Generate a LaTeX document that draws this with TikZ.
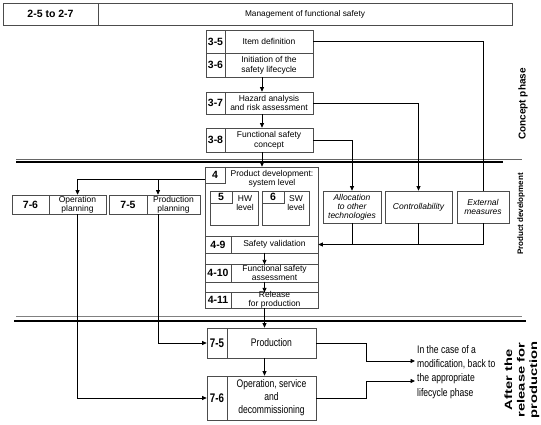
\documentclass[tikz,border=0pt]{standalone}
\usepackage{fontspec}
\setmainfont{Liberation Sans}
\newfontfamily\narrowf[FakeStretch=0.78]{Liberation Sans}
\newfontfamily\widef[FakeStretch=1.4]{Liberation Sans}
\usetikzlibrary{arrows.meta,calc}
\newcommand{\bx}[7][]{\node[cell,#1,minimum width={(#5-#3)*1pt},minimum height={(#6-#4)*1pt}] (#2) at ({(#3+#5)/2},{(#4+#6)/2}) {#7};}
\begin{document}
\begin{tikzpicture}[x=1pt,y=-1pt,
  cell/.style={draw=black!70,line width=0.7pt,inner sep=0pt,align=center,font=\fontsize{8.5}{9.6}\selectfont},
  num/.style={font=\fontsize{10.5}{11}\selectfont\bfseries},
  ital/.style={font=\fontsize{8.5}{9}\selectfont\itshape},
  mid/.style={font=\narrowf\fontsize{11}{13}\selectfont},
  bignum/.style={font=\narrowf\fontsize{12.5}{13}\selectfont\bfseries},
  lbl/.style={inner sep=0pt,align=center,font=\fontsize{8.5}{9.4}\selectfont},
  conn/.style={line width=0.8pt,draw=black},
  arr/.style={conn,-{Triangle[length=4.5pt,width=4pt]}},
  side/.style={rotate=90,inner sep=0pt,align=center}]
\useasboundingbox (0,0) rectangle (541,424);
\fill[white] (0,0) rectangle (541,424);

% phase separators
\draw[black!60,line width=0.6pt] (16,159) -- (522,159);
\draw[black,line width=1.2pt] (16,162) -- (503,162);
\draw[black!50,line width=0.6pt] (16,316) -- (522,316);
\draw[black,line width=2pt] (14,321) -- (526,321);

% header
\bx[num]{hl}{3}{3}{98}{25}{2-5 to 2-7}
\bx[font=\fontsize{8.3}{9}\selectfont]{hr}{98}{3}{512}{25}{Management of functional safety}

% concept phase
\bx[num]{n35}{206}{30}{225}{53}{3-5}
\bx{t35}{225}{30}{313}{53}{Item definition}
\bx[num]{n36}{206}{53}{225}{77}{3-6}
\bx{t36}{225}{53}{313}{77}{Initiation of the\\safety lifecycle}
\bx[num]{n37}{206}{92}{225}{114}{3-7}
\bx{t37}{225}{92}{313}{114}{Hazard analysis\\and risk assessment}
\bx[num]{n38}{206}{128}{225}{152}{3-8}
\bx{t38}{225}{128}{313}{152}{Functional safety\\concept}

% product development box
\bx{b4}{205}{167}{318}{308}{}
\bx[num]{n4}{205}{167}{225}{183}{4}
\node[lbl] (t4) at (272,179) {Product development:\\system level};
\bx{hw}{210}{191}{258}{225}{}
\bx[num]{n5}{210}{191}{232}{203}{5}
\node[lbl] (thw) at (245,203) {HW\\level};
\bx{sw}{262}{191}{309}{225}{}
\bx[num]{n6}{262}{191}{284}{203}{6}
\node[lbl] (tsw) at (296,203) {SW\\level};
\bx{r49}{205}{236}{318}{253}{}
\bx[num]{n49}{205}{236}{231}{253}{4-9}
\node[lbl] (t49) at (274.5,244.5) {Safety validation};
\bx{g1}{205}{253}{318}{264}{}
\bx{r410}{205}{264}{318}{282}{}
\bx[num]{n410}{205}{264}{231}{282}{4-10}
\node[lbl] (t410) at (274.5,273) {Functional safety\\assessment};
\bx{g2}{205}{282}{318}{292}{}
\bx{r411}{205}{292}{318}{308}{}
\bx[num]{n411}{205}{292}{231}{308}{4-11}
\node[lbl] (t411) at (274.5,300) {Release\\for production};

% other measures
\bx[ital]{alloc}{323}{191}{381}{223}{Allocation\\to other\\technologies}
\bx[ital]{ctrl}{385}{191}{452}{223}{Controllability}
\bx[ital]{ext}{457}{191}{509}{223}{External\\measures}

% planning
\bx[num]{n76p}{12}{195}{49}{214}{7-6}
\bx[lbl,draw=black!70,line width=0.7pt]{t76p}{49}{195}{106}{214}{Operation\\planning}
\bx[num]{n75p}{109}{195}{147}{214}{7-5}
\bx[lbl,draw=black!70,line width=0.7pt]{t75p}{147}{195}{200}{214}{Production\\planning}

% after release
\bx[bignum]{n75}{207}{328}{227}{358}{7-5}
\bx[mid]{t75}{227}{328}{316}{358}{Production}
\bx[bignum]{n76}{207}{376}{227}{420}{7-6}
\bx[mid]{t76}{227}{376}{316}{420}{Operation, service\\and\\decommissioning}

\node[inner sep=0pt,anchor=north west,align=left,font=\narrowf\fontsize{11}{14.3}\selectfont] (mod) at (417,345) {In the case of a\\modification, back to\\the appropriate\\lifecycle phase};
\coordinate (m1) at (415,361);
\coordinate (m2) at (415,381);

% side labels
\node[side,font=\fontsize{10}{11}\selectfont\bfseries] (sc) at (523,104) {Concept phase};
\node[side,font=\fontsize{8}{9}\selectfont\bfseries] (sp) at (521,214) {Product development};
\node[side,font=\widef\fontsize{10.5}{12.5}\selectfont\bfseries] (sa) at (522,380) {After the\\release for\\production};

% helper coordinates
\coordinate (cM) at (262,0);
\coordinate (cN) at (264.5,0);
\coordinate (cL2) at (158,0);
\coordinate (cR) at (366,0);
\coordinate (jL) at (b4.west |- t4);

% connectors
\draw[arr] (t36.south -| cM) -- (t37.north -| cM);
\draw[arr] (t37.south -| cM) -- (t38.north -| cM);
\draw[arr] (t38.south -| cM) -- (b4.north -| cM);
\draw[conn] (t35.east) -| (ext.north);
\draw[arr] (t37.east) -| (ctrl.north);
\draw[arr] (t38.east) -| (alloc.north);
\draw[arr] (ext.south) |- (r49.east);
\draw[conn] (alloc.south) -- (alloc.south |- r49.east);
\draw[conn] (ctrl.south) -- (ctrl.south |- r49.east);
\draw[arr] (g1.north -| cN) -- (g1.south -| cN);
\draw[arr] (g2.north -| cN) -- (g2.south -| cN);
\draw[arr] (r411.south -| cN) -- (t75.north -| cN);
\draw[arr] (t75.south -| cN) -- (t76.north -| cN);
\draw[arr] (jL) -| (t76p.north);
\draw[arr] (jL -| cL2) -- (t75p.north -| cL2);
\draw[arr] (t75p.south -| cL2) |- (n75.west);
\draw[arr] (t76p.south) |- (n76.west);
\draw[arr] (t75.east) -- (t75.east -| cR) |- (m1);
\draw[arr] (t76.east) -- (t76.east -| cR) |- (m2);
\end{tikzpicture}
\end{document}
